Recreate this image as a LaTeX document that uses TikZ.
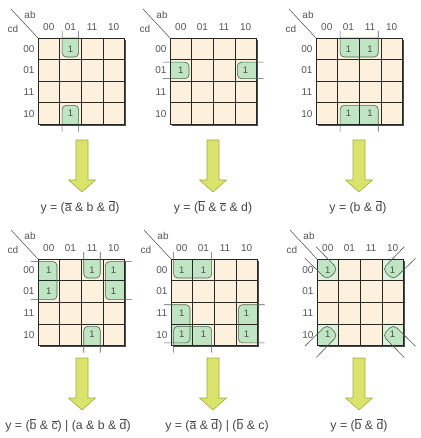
\documentclass[tikz,border=0pt]{standalone}
\usepackage{fontspec}
\setmainfont{Liberation Sans}
\definecolor{cream}{HTML}{FDF0DC}
\definecolor{gfillc}{HTML}{BFE5C3}
\definecolor{glinec}{HTML}{4A6350}
\definecolor{arrowfill}{HTML}{DAE46C}
\definecolor{arrowline}{HTML}{A3AE3C}
\definecolor{txtc}{HTML}{555555}
\tikzset{
  gl/.style={draw=black!85, line width=0.6pt},
  gfill/.style={fill=gfillc, rounded corners=4pt},
  gline/.style={draw=glinec, line width=0.6pt, rounded corners=4pt},
  lbl/.style={font=\fontsize{10}{10}\selectfont, text=txtc, inner sep=0pt},
  onetxt/.style={font=\fontsize{9.5}{9.5}\selectfont, text=black!70, inner sep=0pt},
  eqn/.style={font=\fontsize{12.3}{12.3}\selectfont, text=black!72, inner sep=0pt},
  arr/.style={fill=arrowfill, draw=arrowline, line width=0.6pt, line join=round},
}
\def\mm{0.12}
\def\ee{0.33}
% background of a map
\newcommand\kback{%
  \fill[black!70] (0.07,0.07) rectangle (4.07,4.07);
  \fill[cream] (0,0) rectangle (4,4);}
% lines and labels of a map, #1 = name prefix
\newcommand\klines[1]{%
  \foreach \i in {1,2,3} {\draw[gl] (\i,0) -- (\i,4); \draw[gl] (0,\i) -- (4,\i);}
  \draw[gl, line width=0.9pt] (0,0) rectangle (4,4);
  \coordinate (#1corner) at (0,0);
  \coordinate (#1diag) at (-1.25,-1.34);
  \draw[line width=0.5pt, black!70] (#1diag) -- (#1corner);
  \node[lbl] (#1ab) at (-0.37,-1.06) {ab};
  \node[lbl] (#1cd) at (-1.16,-0.42) {cd};
  \foreach \i/\t in {0/00,1/01,2/11,3/10} {
    \node[lbl] (#1col\i) at (\i+0.5,-0.51) {\t};
    \node[lbl] (#1row\i) at (-0.42,\i+0.5) {\t};
  }}
\newcommand\one[3]{\node[onetxt] (#1one#2#3) at (#2+0.5,#3+0.5) {1};}
% groups: #1 style, #5 end
\newcommand\gtop[5]{\path[#1] ({#2+\mm},{-\ee}) -- ({#2+\mm},{#4+1-\mm}) -- ({#3+1-\mm},{#4+1-\mm}) -- ({#3+1-\mm},{-\ee}) #5;}
\newcommand\gbot[5]{\path[#1] ({#2+\mm},{4+\ee}) -- ({#2+\mm},{#4+\mm}) -- ({#3+1-\mm},{#4+\mm}) -- ({#3+1-\mm},{4+\ee}) #5;}
\newcommand\gleft[5]{\path[#1] ({-\ee},{#2+\mm}) -- ({#4+1-\mm},{#2+\mm}) -- ({#4+1-\mm},{#3+1-\mm}) -- ({-\ee},{#3+1-\mm}) #5;}
\newcommand\gright[5]{\path[#1] ({4+\ee},{#2+\mm}) -- ({#4+\mm},{#2+\mm}) -- ({#4+\mm},{#3+1-\mm}) -- ({4+\ee},{#3+1-\mm}) #5;}
% corner capsule: #1 style, #2 gx, #3 gy, #4 sx, #5 sy, #6 end
\newcommand\gcorner[6]{\path[#1, rounded corners=5pt] ({#2+#4*(-0.035)},{#3+#5*(-0.56)}) -- ({#2+#4*0.97},{#3+#5*0.47}) -- ({#2+#4*0.47},{#3+#5*0.97}) -- ({#2+#4*(-0.56)},{#3+#5*(-0.035)}) #6;}
% down arrow: #1 x, #2 top y, #3 name
\newcommand\darrow[3]{%
  \coordinate (#3) at (#1,#2);
  \draw[arr] ([xshift=-6]#3) -- ([xshift=6]#3) -- ([xshift=6,yshift=-40]#3) -- ([xshift=13.5,yshift=-40]#3) -- ([yshift=-52]#3) -- ([xshift=-13.5,yshift=-40]#3) -- ([xshift=-6,yshift=-40]#3) -- cycle;}
\newcommand\ov[1]{$\overline{\mbox{#1}}$}
\begin{document}
\begin{tikzpicture}[x=1pt,y=-1pt]
\useasboundingbox (0,0) rectangle (420,438);
\fill[white] (0,0) rectangle (420,438);
% ---------- panel 1
\begin{scope}[shift={(38,38)}, x=21.6pt, y=-21.6pt]
  \kback
  \begin{scope}\clip (0,0) rectangle (4,4);
    \gtop{gfill}{1}{1}{0}{--cycle}
    \gbot{gfill}{1}{1}{3}{--cycle}
  \end{scope}
  \klines{a}
  \gtop{gline}{1}{1}{0}{}
  \gbot{gline}{1}{1}{3}{}
  \one{a}{1}{0}\one{a}{1}{3}
\end{scope}
% ---------- panel 2
\begin{scope}[shift={(170,38)}, x=21.6pt, y=-21.6pt]
  \kback
  \begin{scope}\clip (0,0) rectangle (4,4);
    \gleft{gfill}{1}{1}{0}{--cycle}
    \gright{gfill}{1}{1}{3}{--cycle}
  \end{scope}
  \klines{b}
  \gleft{gline}{1}{1}{0}{}
  \gright{gline}{1}{1}{3}{}
  \one{b}{0}{1}\one{b}{3}{1}
\end{scope}
% ---------- panel 3
\begin{scope}[shift={(316,38)}, x=21.6pt, y=-21.6pt]
  \kback
  \begin{scope}\clip (0,0) rectangle (4,4);
    \gtop{gfill}{1}{2}{0}{--cycle}
    \gbot{gfill}{1}{2}{3}{--cycle}
  \end{scope}
  \klines{c}
  \gtop{gline}{1}{2}{0}{}
  \gbot{gline}{1}{2}{3}{}
  \one{c}{1}{0}\one{c}{2}{0}\one{c}{1}{3}\one{c}{2}{3}
\end{scope}
% ---------- panel 4
\begin{scope}[shift={(38,259)}, x=21.6pt, y=-21.6pt]
  \kback
  \begin{scope}\clip (0,0) rectangle (4,4);
    \gleft{gfill}{0}{1}{0}{--cycle}
    \gright{gfill}{0}{1}{3}{--cycle}
    \gtop{gfill}{2}{2}{0}{--cycle}
    \gbot{gfill}{2}{2}{3}{--cycle}
  \end{scope}
  \klines{d}
  \gleft{gline}{0}{1}{0}{}
  \gright{gline}{0}{1}{3}{}
  \gtop{gline}{2}{2}{0}{}
  \gbot{gline}{2}{2}{3}{}
  \one{d}{0}{0}\one{d}{0}{1}\one{d}{2}{0}\one{d}{3}{0}\one{d}{3}{1}\one{d}{2}{3}
\end{scope}
% ---------- panel 5
\begin{scope}[shift={(171,259)}, x=21.6pt, y=-21.6pt]
  \kback
  \begin{scope}\clip (0,0) rectangle (4,4);
    \gtop{gfill}{0}{1}{0}{--cycle}
    \gbot{gfill}{0}{1}{3}{--cycle}
    \gleft{gfill}{2}{3}{0}{--cycle}
    \gright{gfill}{2}{3}{3}{--cycle}
  \end{scope}
  \klines{e}
  \gtop{gline}{0}{1}{0}{}
  \gbot{gline}{0}{1}{3}{}
  \gleft{gline}{2}{3}{0}{}
  \gright{gline}{2}{3}{3}{}
  \one{e}{0}{0}\one{e}{1}{0}\one{e}{0}{2}\one{e}{3}{2}\one{e}{0}{3}\one{e}{1}{3}\one{e}{3}{3}
\end{scope}
% ---------- panel 6
\begin{scope}[shift={(317,259)}, x=21.6pt, y=-21.6pt]
  \kback
  \fill[gfillc!55] (0,0) rectangle (1,1) (3,0) rectangle (4,1) (0,3) rectangle (1,4) (3,3) rectangle (4,4);
  \begin{scope}\clip (0,0) rectangle (4,4);
    \gcorner{gfill}{0}{0}{1}{1}{--cycle}
    \gcorner{gfill}{4}{0}{-1}{1}{--cycle}
    \gcorner{gfill}{0}{4}{1}{-1}{--cycle}
    \gcorner{gfill}{4}{4}{-1}{-1}{--cycle}
  \end{scope}
  \klines{f}
  \gcorner{gline}{0}{0}{1}{1}{}
  \gcorner{gline}{4}{0}{-1}{1}{}
  \gcorner{gline}{0}{4}{1}{-1}{}
  \gcorner{gline}{4}{4}{-1}{-1}{}
  \one{f}{0}{0}\one{f}{3}{0}\one{f}{0}{3}\one{f}{3}{3}
\end{scope}
% ---------- arrows
\darrow{82}{140}{ar1}
\darrow{213}{140}{ar2}
\darrow{359}{140}{ar3}
\darrow{82}{358}{ar4}
\darrow{213}{358}{ar5}
\darrow{359}{358}{ar6}
% ---------- equations
\node[eqn] (eq1) at (80,207) {y = (\ov{a} \& b \& \ov{d})};
\node[eqn] (eq2) at (213,207) {y = (\ov{b} \& \ov{c} \& d)};
\node[eqn] (eq3) at (358,207) {y = (b \& \ov{d})};
\node[eqn] (eq4) at (68,425) {y = (\ov{b} \& \ov{c}) | (a \& b \& \ov{d})};
\node[eqn] (eq5) at (217,425) {y = (\ov{a} \& \ov{d}) | (\ov{b} \& c)};
\node[eqn] (eq6) at (359,425) {y = (\ov{b} \& \ov{d})};
\end{tikzpicture}
\end{document}
